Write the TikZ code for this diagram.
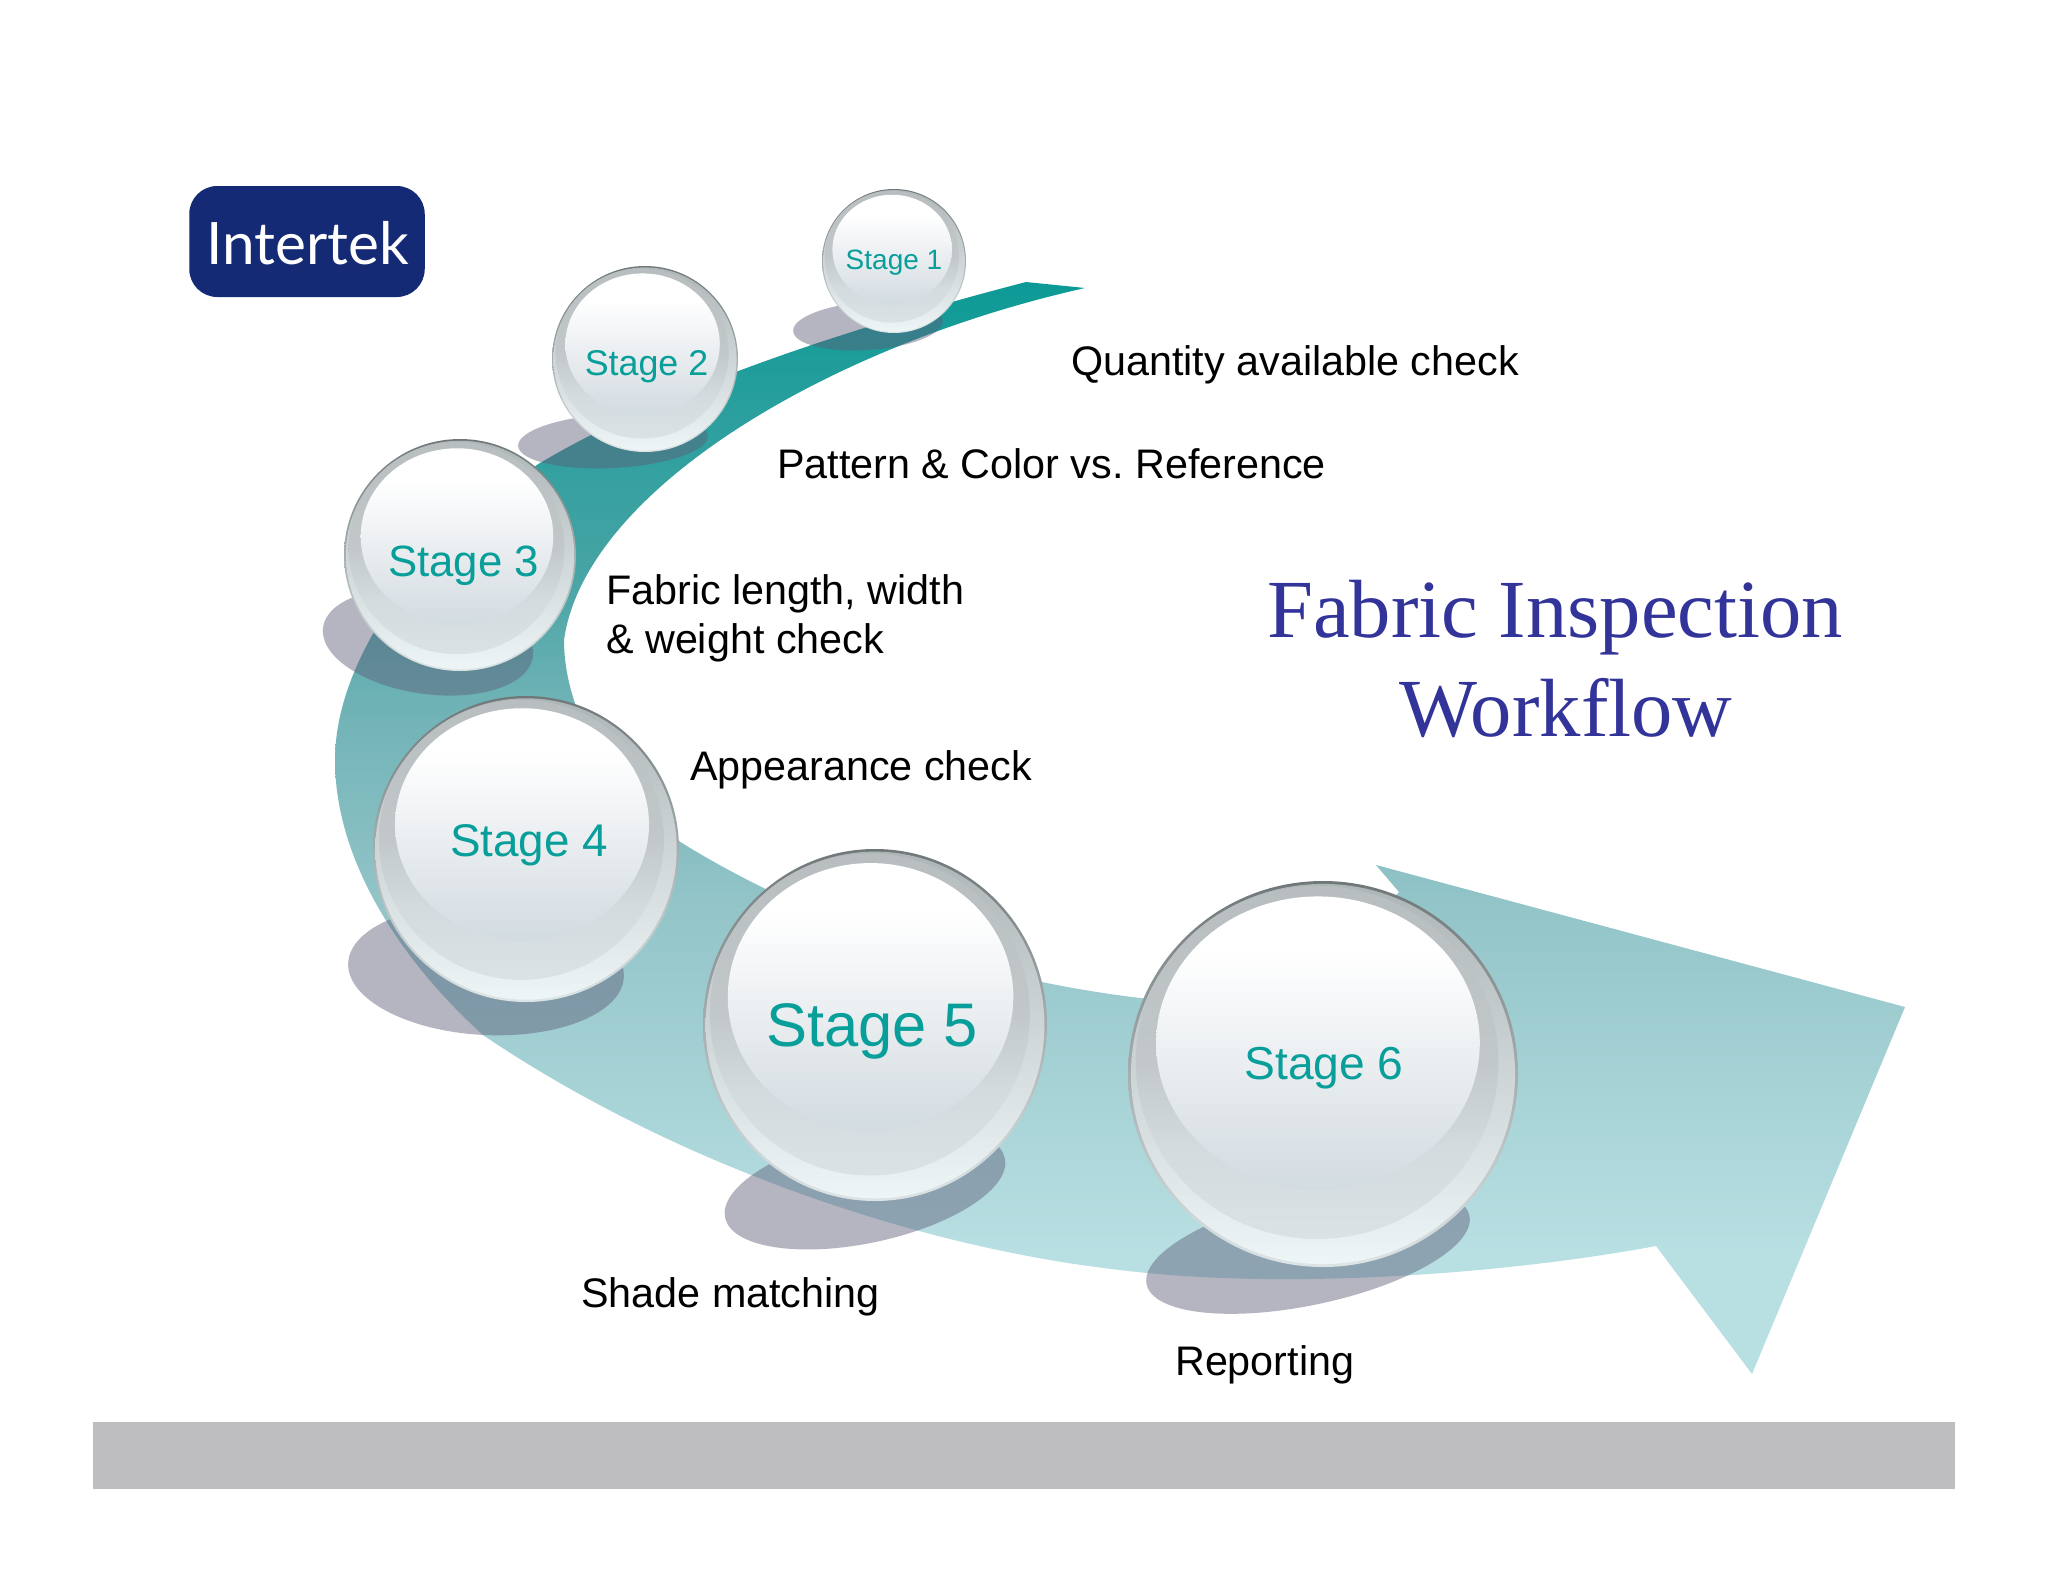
\documentclass[tikz,border=0pt]{standalone}
\usepackage{fontspec}
\setmainfont{Liberation Sans}
\newfontfamily\titlefont{Liberation Serif}
\newfontfamily\logofont{Lato}
\usetikzlibrary{shadings}
\frenchspacing
\definecolor{rbA}{HTML}{0C9A96}
\definecolor{rbB}{HTML}{2A9F9E}
\definecolor{rbC}{HTML}{45A3A3}
\definecolor{rbD}{HTML}{6EB2B5}
\definecolor{rbE}{HTML}{92C4C8}
\definecolor{rbG}{HTML}{B8DFE2}
\definecolor{stagecol}{HTML}{089E9A}
\definecolor{titlecol}{HTML}{33349A}
\definecolor{logocol}{HTML}{152A75}
\definecolor{barcol}{HTML}{BEBDC0}
\definecolor{shadowcol}{HTML}{5D5C78}
\definecolor{rimtop}{HTML}{6F7778}
\definecolor{rimbot}{HTML}{DCE4E5}
\definecolor{ringtop}{HTML}{AEB5B6}
\definecolor{ringbot}{HTML}{EEF5F6}
\definecolor{disctop}{HTML}{B8BEC0}
\definecolor{discmid}{HTML}{C2C8CA}
\definecolor{disclow}{HTML}{D3DBDF}
\definecolor{discbot}{HTML}{DAE2E4}
\definecolor{glassmid}{HTML}{EEF1F3}
\definecolor{glasslow}{HTML}{DEE4E8}
\definecolor{glassbot}{HTML}{D3DCE1}
\pgfdeclareverticalshading{ribbonshade}{100bp}{%
 color(0bp)=(rbG); color(30.7bp)=(rbG); color(46.7bp)=(rbE);
 color(55.9bp)=(rbD); color(62bp)=(rbC); color(69bp)=(rbB); color(75bp)=(rbA); color(100bp)=(rbA)}
\pgfdeclareverticalshading{discshade}{100bp}{%
 color(0bp)=(discbot); color(25bp)=(discbot); color(38bp)=(disclow); color(50bp)=(discmid); color(75bp)=(disctop); color(100bp)=(disctop)}
\pgfdeclareverticalshading{glassshade}{100bp}{%
 color(0bp)=(glassbot); color(25bp)=(glassbot); color(36bp)=(glasslow); color(50bp)=(glassmid); color(66bp)=(white); color(100bp)=(white)}
\tikzset{
 ribbonfill/.style={shading=ribbonshade},
 shadowfill/.style={fill=shadowcol,fill opacity=.45},
 ballrim/.style={top color=rimtop,bottom color=rimbot},
 ballring/.style={top color=ringtop,bottom color=ringbot},
 balldisc/.style={shading=discshade},
 ballglass/.style={shading=glassshade},
 stagelabel/.style={anchor=base,text=stagecol,inner sep=0pt},
 bodytext/.style={anchor=base west,inner sep=0pt,text=black,font=\fontsize{41.3}{50}\selectfont},
 titletext/.style={anchor=base,inner sep=0pt,text=titlecol,font=\titlefont\fontsize{82.6}{99}\selectfont},
}
\newcommand\glassball[4]{%
 \begin{scope}[shift={(#1,-#2)},xscale=#3,yscale=#4]
  \path[ballrim] (0,0) circle (1);
  \path[ballring] (0,0) circle (.985);
  \path[balldisc] (-.03,.06) ellipse (.93 and .915);
  \path[ballglass] (-.026,.16) ellipse (.83 and .76);
 \end{scope}}
\newcommand\ballshadow[5]{%
 \path[shadowfill,shift={(#1,-#2)},rotate=#5] (0,0) ellipse (#3 and #4);}
\begin{document}
\begin{tikzpicture}[x=1pt,y=1pt]
\useasboundingbox (0,0) rectangle (2048,-1582);
\fill[white] (0,0) rectangle (2048,-1582);
% bottom bar
\fill[barcol] (93,-1422) rectangle (1955,-1489);
% ribbon
\path[ribbonfill]
 (1085,-288)
 .. controls (830,-345) and (585,-490) .. (564,-640)
 .. controls (564,-720) and (620,-800) .. (682,-843)
 .. controls (790,-910) and (950,-975) .. (1140,-998)
 -- (1300,-1010) -- (1399,-892) -- (1376,-865) -- (1905,-1007) -- (1752,-1374) -- (1656,-1246)
 .. controls (1500,-1275) and (1280,-1290) .. (1120,-1270)
 .. controls (900,-1245) and (660,-1155) .. (483,-1035)
 .. controls (400,-960) and (335,-860) .. (335,-760)
 .. controls (335,-660) and (420,-540) .. (540,-463)
 .. controls (680,-380) and (880,-320) .. (1026,-282)
 -- cycle;
% shadows
\ballshadow{868}{326}{75}{24}{4}
\ballshadow{613}{441}{95}{27}{3}
\ballshadow{428}{642}{106}{52}{-8}
\ballshadow{486}{970}{138}{65}{-3}
\ballshadow{865}{1188}{143}{55}{12}
\ballshadow{1308}{1250}{165}{55}{12}
% balls
\glassball{894}{261}{72}{72}
\glassball{645}{359}{93}{93}
\glassball{460}{555}{116}{116}
\glassball{526}{849}{153}{153}
\glassball{875}{1025}{172}{176}
\glassball{1323}{1074}{195}{193}
% stage labels
\node[stagelabel,font=\fontsize{28}{34}\selectfont] (s1) at (894,-269) {Stage 1};
\node[stagelabel,font=\fontsize{35.8}{43}\selectfont] (s2) at (646.5,-375) {Stage 2};
\node[stagelabel,font=\fontsize{43.8}{52}\selectfont] (s3) at (463.5,-576) {Stage 3};
\node[stagelabel,font=\fontsize{45.8}{55}\selectfont] (s4) at (529,-856) {Stage 4};
\node[stagelabel,font=\fontsize{61.5}{73}\selectfont] (s5) at (872,-1046) {Stage 5};
\node[stagelabel,font=\fontsize{46.2}{55}\selectfont] (s6) at (1324,-1079) {Stage 6};
% body text
\node[bodytext] (t1) at (1071,-375) {Quantity available check};
\node[bodytext] (t2) at (777,-478) {Pattern \& Color vs. Reference};
\node[bodytext] (t3a) at (606,-604) {Fabric length, width};
\node[bodytext] (t3b) at (606,-653) {\& weight check};
\node[bodytext] (t4) at (690,-780) {Appearance check};
\node[bodytext] (t5) at (581,-1307) {Shade matching};
\node[bodytext] (t6) at (1175,-1375) {Reporting};
% title
\node[titletext] (title1) at (1555,-637) {Fabric Inspection};
\node[titletext] (title2) at (1566,-736) {Workflow};
% logo
\node[draw=none,fill=logocol,rounded corners=28pt,minimum width=235.5pt,minimum height=111pt,inner sep=0pt] (logobox) at (307,-241.5) {};
\node[anchor=base,inner sep=0pt,text=white,font=\logofont\fontsize{58.5}{70}\selectfont] (logotext) at (308,-264) {Intertek};
\end{tikzpicture}
\end{document}
